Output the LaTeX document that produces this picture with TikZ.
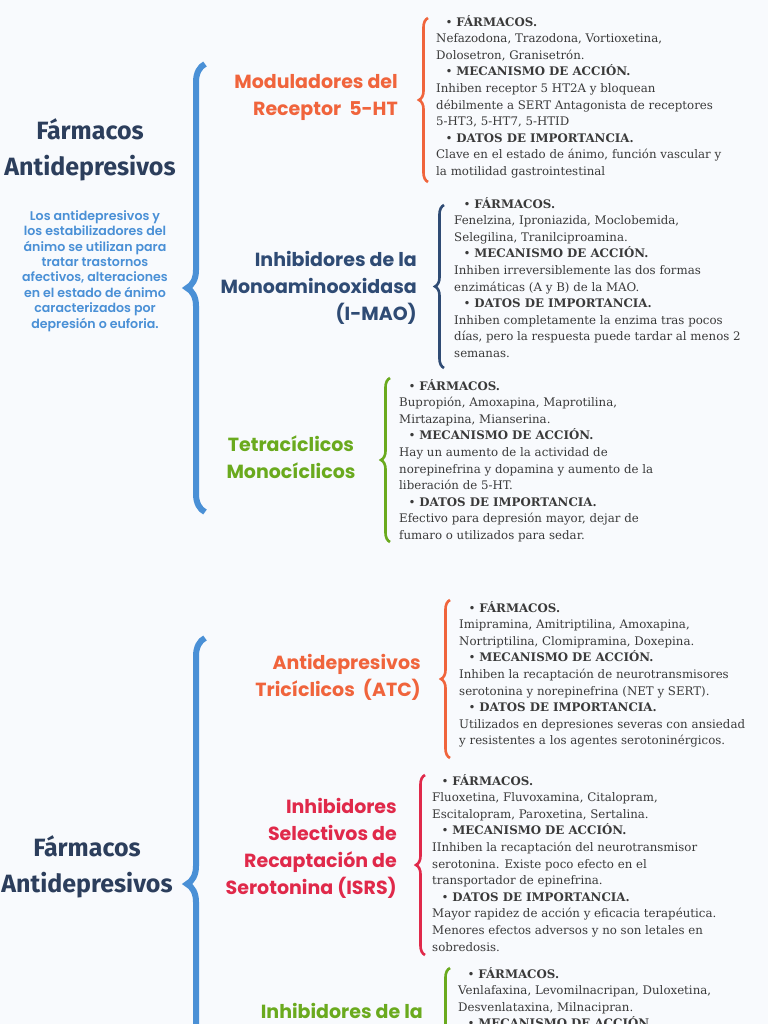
\documentclass[tikz,border=0pt]{standalone}
\usepackage{fontspec}
\setmainfont{DejaVu Serif}
\newfontfamily\headf{Poppins}[UprightFont=* Bold]
\newfontfamily\descf{Poppins}[UprightFont=* SemiBold]
\newfontfamily\titf{Fira Sans}[UprightFont=* Bold]
\usetikzlibrary{decorations.pathreplacing}
\definecolor{bg}{HTML}{F8FAFD}
\definecolor{cor}{HTML}{F0643C}
\definecolor{cnavy}{HTML}{2F4B74}
\definecolor{cgreen}{HTML}{6AAA1E}
\definecolor{cred}{HTML}{E0294A}
\definecolor{cblue}{HTML}{4A90D6}
\definecolor{ctit}{HTML}{2C3E5C}
\definecolor{ctxt}{HTML}{3A3A3A}
\tikzset{
 body/.style={anchor=north west,align=left,inner sep=0pt,text=ctxt,font=\fontsize{11.8}{16.6}\selectfont},
 head/.style={align=right,inner sep=0pt,font=\headf\fontsize{19}{27}\selectfont},
 bigbrace/.style={draw=cblue,line width=6pt,decorate,decoration={brace,amplitude=18pt,aspect=0.5}},
 smallbrace/.style={line width=2.6pt,decorate,decoration={brace,amplitude=9pt,aspect=0.5}},
 title/.style={align=center,inner sep=0pt,text=ctit,font=\titf\fontsize{25}{36}\selectfont},
}
\newcommand{\bl}[1]{\hspace*{0.8em}\textbullet\ \textbf{#1}}
\begin{document}
\begin{tikzpicture}[x=1pt,y=-1pt]
\fill[bg] (0,0) rectangle (768,1024);
\useasboundingbox (0,0) rectangle (768,1024);
\clip (0,0) rectangle (768,1024);
\draw[bigbrace] (205,512) -- (205,64);
\draw[bigbrace] (205,1130) -- (205,638);
\node[title] (t1) at (90,150) {Fármacos\\Antidepresivos};
\node[align=center,inner sep=0pt,text=cblue,font=\descf\fontsize{12.6}{15.4}\selectfont] (d1) at (95,271)
 {Los antidepresivos y\\los estabilizadores del\\ánimo se utilizan para\\tratar trastornos\\afectivos, alteraciones\\en el estado de ánimo\\caracterizados por\\depresión o euforia.};
\node[title] (t2) at (87,867) {Fármacos\\Antidepresivos};
\draw[smallbrace,draw=cor] (428,182) -- (428,18);
\draw[smallbrace,draw=cnavy] (444,368) -- (444,205);
\draw[smallbrace,draw=cgreen] (390,542) -- (390,378);
\draw[smallbrace,draw=cor] (450,758) -- (450,600);
\draw[smallbrace,draw=cred] (425,955) -- (425,775);
\draw[smallbrace,draw=cgreen] (450,1150) -- (450,968);
\node[head,text=cor,anchor=east] (h1) at (398,97) {Moduladores del\\Receptor\ \ 5-HT};
\node[head,text=cnavy,anchor=east] (h2) at (417,288) {Inhibidores de la\\Monoaminooxidasa\\(I-MAO)};
\node[head,text=cgreen,align=center] (h3) at (291,457) {Tetracíclicos\\Monocíclicos};
\node[head,text=cor,anchor=east] (h4) at (421,677) {Antidepresivos\\Tricíclicos\ \ (ATC)};
\node[head,text=cred,anchor=east] (h5) at (397,848) {Inhibidores\\Selectivos de\\Recaptación de\\Serotonina (ISRS)};
\node[head,text=cgreen,anchor=east] (h6) at (423,1011) {Inhibidores de la};
\node[body] (b1) at (436,15) {\bl{FÁRMACOS.}\\Nefazodona, Trazodona, Vortioxetina,\\Dolosetron, Granisetrón.\\\bl{MECANISMO DE ACCIÓN.}\\Inhiben receptor 5 HT2A y bloquean\\débilmente a SERT Antagonista de receptores\\5-HT3, 5-HT7, 5-HTID\\\bl{DATOS DE IMPORTANCIA.}\\Clave en el estado de ánimo, función vascular y\\la motilidad gastrointestinal};
\node[body] (b2) at (454,197) {\bl{FÁRMACOS.}\\Fenelzina, Iproniazida, Moclobemida,\\Selegilina, Tranilciproamina.\\\bl{MECANISMO DE ACCIÓN.}\\Inhiben irreversiblemente las dos formas\\enzimáticas (A y B) de la MAO.\\\bl{DATOS DE IMPORTANCIA.}\\Inhiben completamente la enzima tras pocos\\días, pero la respuesta puede tardar al menos 2\\semanas.};
\node[body] (b3) at (399,379) {\bl{FÁRMACOS.}\\Bupropión, Amoxapina, Maprotilina,\\Mirtazapina, Mianserina.\\\bl{MECANISMO DE ACCIÓN.}\\Hay un aumento de la actividad de\\norepinefrina y dopamina y aumento de la\\liberación de 5-HT.\\\bl{DATOS DE IMPORTANCIA.}\\Efectivo para depresión mayor, dejar de\\fumaro o utilizados para sedar.};
\node[body] (b4) at (459,601) {\bl{FÁRMACOS.}\\Imipramina, Amitriptilina, Amoxapina,\\Nortriptilina, Clomipramina, Doxepina.\\\bl{MECANISMO DE ACCIÓN.}\\Inhiben la recaptación de neurotransmisores\\serotonina y norepinefrina (NET y SERT).\\\bl{DATOS DE IMPORTANCIA.}\\Utilizados en depresiones severas con ansiedad\\y resistentes a los agentes serotoninérgicos.};
\node[body] (b5) at (432,774) {\bl{FÁRMACOS.}\\Fluoxetina, Fluvoxamina, Citalopram,\\Escitalopram, Paroxetina, Sertalina.\\\bl{MECANISMO DE ACCIÓN.}\\IInhiben la recaptación del neurotransmisor\\serotonina. Existe poco efecto en el\\transportador de epinefrina.\\\bl{DATOS DE IMPORTANCIA.}\\Mayor rapidez de acción y eficacia terapéutica.\\Menores efectos adversos y no son letales en\\sobredosis.};
\node[body] (b6) at (458,967) {\bl{FÁRMACOS.}\\Venlafaxina, Levomilnacripan, Duloxetina,\\Desvenlataxina, Milnacipran.\\\bl{MECANISMO DE ACCIÓN.}};
\end{tikzpicture}
\end{document}
